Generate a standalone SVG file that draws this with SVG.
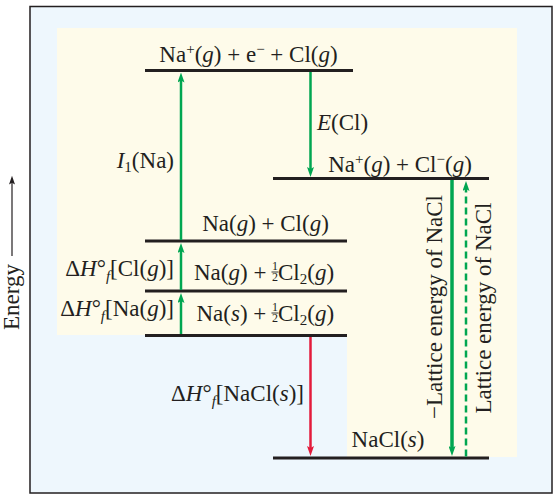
<svg xmlns="http://www.w3.org/2000/svg" width="555" height="502" viewBox="0 0 555 502">
<style>
  text { font-family: "Liberation Serif", "Times New Roman", serif; font-size: 23px; fill: #231f20; }
  .i { font-style: italic; }
  .sup { font-size: 15px; }
  .fr { font-size: 12px; }
  .sub { font-size: 15px; }
  .lvl { stroke: #231f20; stroke-width: 3; fill: none; }
  .g { stroke: #00a651; stroke-width: 2.5; fill: none; }
  .gt { stroke: #00a651; stroke-width: 3.5; fill: none; }
  .gd { stroke: #00a651; stroke-width: 2.5; fill: none; stroke-dasharray: 7 4; }
  .r { stroke: #e31b3b; stroke-width: 2.5; fill: none; }
  .k { stroke: #231f20; stroke-width: 1.2; fill: none; }
  .bar { stroke: #231f20; stroke-width: 0.9; }
</style>
<defs>
  <marker id="ag" markerUnits="userSpaceOnUse" viewBox="0 0 10 7" markerWidth="10" markerHeight="7" refX="4" refY="3.5" orient="auto">
    <path d="M0,0 L10,3.5 L0,7 L2,3.5 Z" fill="#00a651"/>
  </marker>
  <marker id="ar" markerUnits="userSpaceOnUse" viewBox="0 0 10 7" markerWidth="10" markerHeight="7" refX="4" refY="3.5" orient="auto">
    <path d="M0,0 L10,3.5 L0,7 L2,3.5 Z" fill="#e31b3b"/>
  </marker>
  <marker id="ak" markerUnits="userSpaceOnUse" viewBox="0 0 10 7" markerWidth="10" markerHeight="6" refX="4" refY="3.5" orient="auto">
    <path d="M0,0 L10,3.5 L0,7 L2,3.5 Z" fill="#231f20"/>
  </marker>
</defs>

<!-- background -->
<rect x="0" y="0" width="555" height="502" fill="#ffffff"/>
<rect x="30" y="6.5" width="522" height="486.5" fill="#eef7fd" stroke="#231f20" stroke-width="1.5"/>
<path d="M57,28 H517 V457 H347 V335 H57 Z" fill="#fefbea"/>

<!-- energy axis -->
<g id="energy-axis">
  <line x1="12" y1="256" x2="12" y2="181" class="k" marker-end="url(#ak)"/>
  <text transform="translate(19,297) rotate(-90)" text-anchor="middle">Energy</text>
</g>

<!-- levels -->
<g id="level-ions-electron">
  <line x1="145" y1="70.5" x2="353" y2="70.5" class="lvl"/>
  <text x="248.5" y="62" text-anchor="middle">Na<tspan class="sup" dy="-8">+</tspan><tspan dy="8">(</tspan><tspan class="i">g</tspan>) + e<tspan class="sup" dy="-8">−</tspan><tspan dy="8"> + Cl(</tspan><tspan class="i">g</tspan>)</text>
</g>
<g id="level-ions">
  <line x1="273" y1="178.5" x2="489" y2="178.5" class="lvl"/>
  <text x="400" y="172" text-anchor="middle">Na<tspan class="sup" dy="-8">+</tspan><tspan dy="8">(</tspan><tspan class="i">g</tspan>) + Cl<tspan class="sup" dy="-8">−</tspan><tspan dy="8">(</tspan><tspan class="i">g</tspan>)</text>
</g>
<g id="level-atoms">
  <line x1="145" y1="241" x2="347" y2="241" class="lvl"/>
  <text x="265.5" y="231" text-anchor="middle">Na(<tspan class="i">g</tspan>) + Cl(<tspan class="i">g</tspan>)</text>
</g>
<g id="level-na-gas">
  <line x1="145" y1="291" x2="347" y2="291" class="lvl"/>
  <text x="194" y="280">Na(<tspan class="i">g</tspan>) + <tspan class="fr" x="272" y="270">1</tspan><tspan class="fr" x="272" y="281">2</tspan><tspan y="280">Cl</tspan><tspan class="sub" y="284">2</tspan><tspan y="280">(</tspan><tspan class="i">g</tspan>)</text>
  <line x1="271.5" y1="272" x2="278.5" y2="272" class="bar"/>
</g>
<g id="level-elements">
  <line x1="145" y1="335.5" x2="347" y2="335.5" class="lvl"/>
  <text x="196.5" y="321">Na(<tspan class="i">s</tspan>) + <tspan class="fr" x="272" y="311">1</tspan><tspan class="fr" x="272" y="322">2</tspan><tspan y="321">Cl</tspan><tspan class="sub" y="325">2</tspan><tspan y="321">(</tspan><tspan class="i">g</tspan>)</text>
  <line x1="271.5" y1="313" x2="278.5" y2="313" class="bar"/>
</g>
<g id="level-nacl">
  <line x1="273" y1="458" x2="489" y2="458" class="lvl"/>
  <text x="388" y="447" text-anchor="middle">NaCl(<tspan class="i">s</tspan>)</text>
</g>

<!-- connectors -->
<g id="connectors">
  <line x1="181" y1="334" x2="181" y2="299" class="g" marker-end="url(#ag)"/>
  <line x1="181" y1="290" x2="181" y2="249" class="g" marker-end="url(#ag)"/>
  <line x1="181" y1="240" x2="181" y2="78.5" class="g" marker-end="url(#ag)"/>
  <line x1="310.5" y1="72" x2="310.5" y2="171" class="g" marker-end="url(#ag)"/>
  <line x1="310.5" y1="337" x2="310.5" y2="450" class="r" marker-end="url(#ar)"/>
  <line x1="452" y1="180" x2="452" y2="450" class="gt" marker-end="url(#ag)"/>
  <line x1="466" y1="456.5" x2="466" y2="187" class="gd" marker-end="url(#ag)"/>

  <g id="connector-labels">
    <text x="174" y="168" text-anchor="end"><tspan class="i">I</tspan><tspan class="sub" dy="4">1</tspan><tspan dy="-4">(Na)</tspan></text>
    <text x="317" y="130"><tspan class="i">E</tspan>(Cl)</text>
    <text x="174" y="276" text-anchor="end">Δ<tspan class="i">H</tspan>°<tspan class="i sub" dy="5">f</tspan><tspan dy="-5">[Cl(</tspan><tspan class="i">g</tspan>)]</text>
    <text x="174" y="316" text-anchor="end">Δ<tspan class="i">H</tspan>°<tspan class="i sub" dy="5">f</tspan><tspan dy="-5">[Na(</tspan><tspan class="i">g</tspan>)]</text>
    <text x="304" y="401" text-anchor="end">Δ<tspan class="i">H</tspan>°<tspan class="i sub" dy="5">f</tspan><tspan dy="-5">[NaCl(</tspan><tspan class="i">s</tspan>)]</text>
    <text transform="translate(442,307) rotate(-90)" text-anchor="middle">−Lattice energy of NaCl</text>
    <text transform="translate(491,308) rotate(-90)" text-anchor="middle">Lattice energy of NaCl</text>
  </g>
</g>
</svg>
